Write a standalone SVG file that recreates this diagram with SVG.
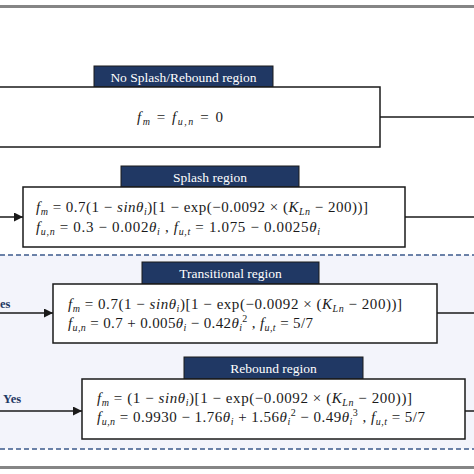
<svg xmlns="http://www.w3.org/2000/svg" width="474" height="474" viewBox="0 0 474 474">
<style>
.hdr{fill:#203864;stroke:#1a1a1a;stroke-width:1}
.hdrt{font-family:"Liberation Serif",serif;font-size:13.5px;fill:#ffffff;text-anchor:middle}
.box{fill:#ffffff;stroke:#1a1a1a;stroke-width:1.5}
.eq{font-family:"Liberation Serif",serif;font-size:15px;fill:#1a1a1a}
.i{font-style:italic}
.sub{font-size:10px;baseline-shift:-3px;font-style:italic}
.sup{font-size:10px;baseline-shift:6px}
.con{stroke:#1a1a1a;stroke-width:1.5;fill:none}
.yes{font-family:"Liberation Serif",serif;font-size:12.5px;font-weight:bold;fill:#1f3864}
.dash{stroke:#3d5a8c;stroke-width:1.5;stroke-dasharray:5 3;fill:none}
.rule{stroke:#858585;stroke-width:3}
</style>
<defs>
<marker id="ah" viewBox="0 0 10 10" refX="10" refY="5" markerWidth="11" markerHeight="9" markerUnits="userSpaceOnUse" orient="auto">
<path d="M0,0 L10,5 L0,10 Z" fill="#1a1a1a"/>
</marker>
</defs>
<rect x="0" y="0" width="474" height="474" fill="#ffffff"/>
<line class="rule" x1="0" y1="6.5" x2="474" y2="6.5"/>
<rect x="0" y="255" width="474" height="194" fill="#f3f4fb"/>
<line class="dash" x1="0" y1="255" x2="474" y2="255"/>
<line class="dash" x1="0" y1="449" x2="474" y2="449"/>
<line class="rule" x1="0" y1="467.5" x2="474" y2="467.5"/>

<g id="connectors">
<line class="con" x1="380" y1="117" x2="474" y2="117"/>
<line class="con" x1="0" y1="217" x2="23" y2="217" marker-end="url(#ah)"/>
<line class="con" x1="405" y1="217" x2="474" y2="217"/>
<line class="con" x1="0" y1="313" x2="53" y2="313" marker-end="url(#ah)"/>
<line class="con" x1="437" y1="313" x2="474" y2="313"/>
<line class="con" x1="0" y1="411" x2="82" y2="411" marker-end="url(#ah)"/>
<line class="con" x1="465" y1="411" x2="474" y2="411"/>
<text class="yes" x="0" y="308">es</text>
<text class="yes" x="3" y="403">Yes</text>
</g>

<g id="no-splash">
<rect class="hdr" x="94" y="66" width="179" height="21"/>
<text class="hdrt" x="183.5" y="81.5">No Splash/Rebound region</text>
<rect class="box" x="-2" y="87" width="382" height="60"/>
<text class="eq" x="137" y="122" textLength="86" lengthAdjust="spacing"><tspan class="i">f</tspan><tspan class="sub">m</tspan> =  <tspan class="i">f</tspan><tspan class="sub">u,n</tspan> = 0</text>
</g>

<g id="splash">
<rect class="hdr" x="121" y="166" width="178" height="21"/>
<text class="hdrt" x="210" y="181.5">Splash region</text>
<rect class="box" x="23" y="187" width="382" height="60"/>
<text class="eq" x="36" y="212" textLength="332" lengthAdjust="spacing"><tspan class="i">f</tspan><tspan class="sub">m</tspan> = 0.7(1 − <tspan class="i">sinθ</tspan><tspan class="sub">i</tspan>)[1 − exp(−0.0092 × (<tspan class="i">K</tspan><tspan class="sub">Ln</tspan> − 200))]</text>
<text class="eq" x="36" y="232" textLength="284" lengthAdjust="spacing"><tspan class="i">f</tspan><tspan class="sub">u,n</tspan> = 0.3 − 0.002<tspan class="i">θ</tspan><tspan class="sub">i</tspan> , <tspan class="i">f</tspan><tspan class="sub">u,t</tspan> = 1.075 − 0.0025<tspan class="i">θ</tspan><tspan class="sub">i</tspan></text>
</g>

<g id="transitional">
<rect class="hdr" x="142" y="262" width="177" height="22"/>
<text class="hdrt" x="230.5" y="278">Transitional region</text>
<rect class="box" x="53" y="284" width="384" height="59"/>
<text class="eq" x="68" y="309" textLength="334" lengthAdjust="spacing"><tspan class="i">f</tspan><tspan class="sub">m</tspan> = 0.7(1 − <tspan class="i">sinθ</tspan><tspan class="sub">i</tspan>)[1 − exp(−0.0092 × (<tspan class="i">K</tspan><tspan class="sub">Ln</tspan> − 200))]</text>
<text class="eq" x="68" y="328" textLength="245" lengthAdjust="spacing"><tspan class="i">f</tspan><tspan class="sub">u,n</tspan> = 0.7 + 0.005<tspan class="i">θ</tspan><tspan class="sub">i</tspan> − 0.42<tspan class="i">θ</tspan><tspan class="sub">i</tspan><tspan class="sup">2</tspan> , <tspan class="i">f</tspan><tspan class="sub">u,t</tspan> = 5/7</text>
</g>

<g id="rebound">
<rect class="hdr" x="184" y="357" width="179" height="22"/>
<text class="hdrt" x="273.5" y="373">Rebound region</text>
<rect class="box" x="82" y="379" width="383" height="60"/>
<text class="eq" x="97" y="403" textLength="315" lengthAdjust="spacing"><tspan class="i">f</tspan><tspan class="sub">m</tspan> = (1 − <tspan class="i">sinθ</tspan><tspan class="sub">i</tspan>)[1 − exp(−0.0092 × (<tspan class="i">K</tspan><tspan class="sub">Ln</tspan> − 200))]</text>
<text class="eq" x="97" y="422" textLength="328" lengthAdjust="spacing"><tspan class="i">f</tspan><tspan class="sub">u,n</tspan> = 0.9930 − 1.76<tspan class="i">θ</tspan><tspan class="sub">i</tspan> + 1.56<tspan class="i">θ</tspan><tspan class="sub">i</tspan><tspan class="sup">2</tspan> − 0.49<tspan class="i">θ</tspan><tspan class="sub">i</tspan><tspan class="sup">3</tspan> , <tspan class="i">f</tspan><tspan class="sub">u,t</tspan> = 5/7</text>
</g>
</svg>
